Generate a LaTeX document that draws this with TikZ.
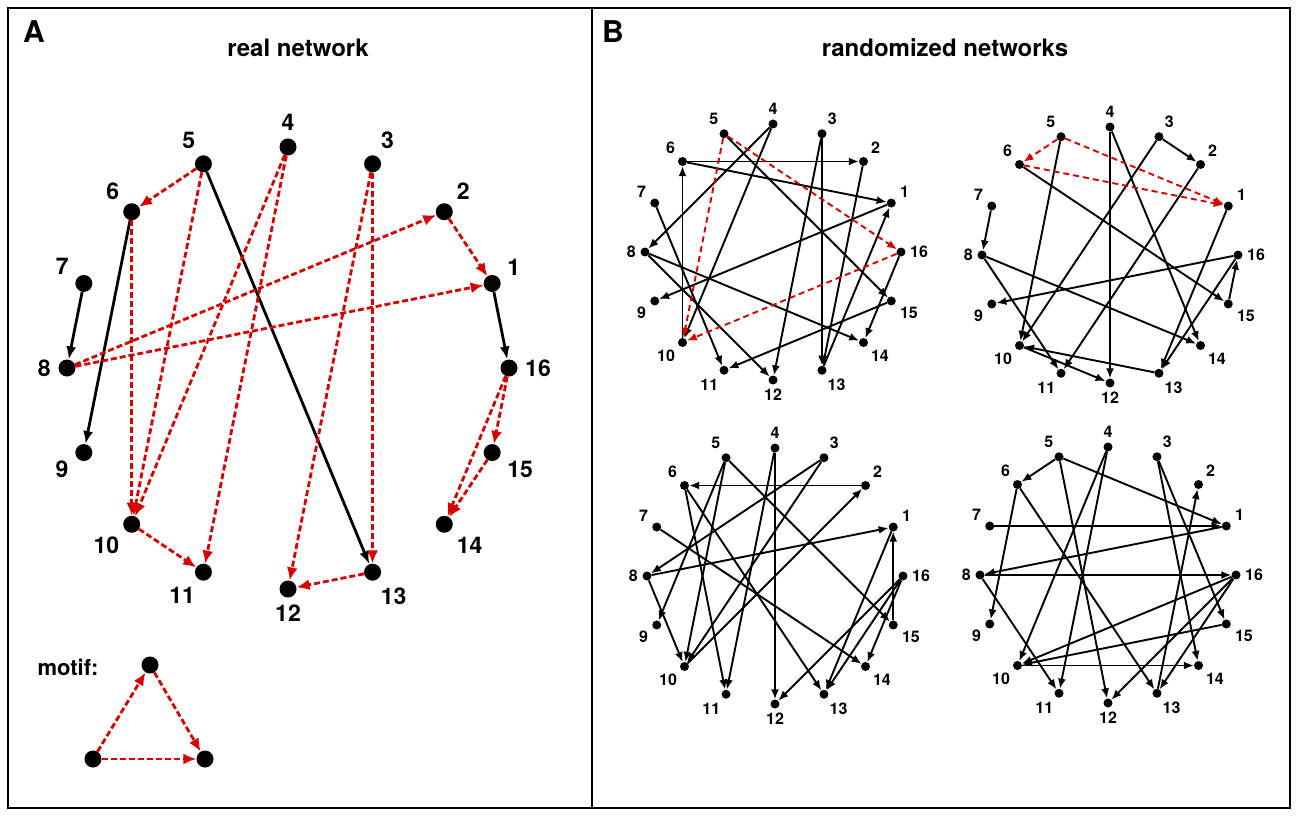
\documentclass[tikz,border=0pt]{standalone}
\usepackage{fontspec}
\setmainfont{TeX Gyre Heros}
\usetikzlibrary{arrows.meta}
\tikzset{
    big dot/.style={circle,fill=black,inner sep=0pt,minimum size=17pt},
    small dot/.style={circle,fill=black,inner sep=0pt,minimum size=9pt},
    big lbl/.style={font=\fontsize{23}{25}\selectfont\bfseries,label distance=4pt},
    small lbl/.style={font=\fontsize{16}{18}\selectfont\bfseries,label distance=1pt},
    blk A/.style={line width=2.8pt,-{Latex[length=13pt,width=10pt]}},
    red A/.style={line width=2.8pt,red!85!black,dash pattern=on 6pt off 3pt,-{Latex[length=13pt,width=11pt]}},
    blk B/.style={line width=1.9pt,-{Latex[length=10pt,width=8pt]}},
    red B/.style={line width=1.9pt,red!85!black,dash pattern=on 6pt off 4pt,-{Latex[length=10pt,width=8pt]}}
}
% one ring of sixteen nodes: prefix, centre x, centre y, radius, dot style, label style
\newcommand\ring[6]{%
  \foreach \i [evaluate=\i as \a using 22.5*\i] in {1,...,16}
    \node[#5,label={[#6]\a:\i}] (#1\i) at ({#2+#4*cos(\a)},{#3-#4*sin(\a)}) {};}

\begin{document}
\begin{tikzpicture}[x=1pt,y=-1pt]
\useasboundingbox (0,0) rectangle (1298,821);
\draw[line width=2.5pt] (8,8) rectangle (1290,808);
\draw[line width=2.5pt] (592,8) -- (592,808);

% panel A
\node[font=\fontsize{30}{32}\selectfont\bfseries] (labA) at (34,32) {A};
\node[font=\fontsize{24}{26}\selectfont\bfseries] (titA) at (298,48) {real network};
\ring{A}{288}{368}{221}{big dot}{big lbl}
\foreach \s/\t in {7/8,6/9,5/13,1/16}
    \draw[blk A] (A\s) -- (A\t);
\foreach \s/\t in {5/6,5/10,4/10,4/11,6/10,3/12,3/13,13/12,10/11,2/1,8/2,8/1,16/14,16/15,15/14}
    \draw[red A] (A\s) -- (A\t);

% motif
\node[font=\fontsize{22}{24}\selectfont\bfseries] (motif) at (68,667) {motif:};
\node[big dot] (m1) at (150,665) {};
\node[big dot] (m2) at (93,759) {};
\node[big dot] (m3) at (205,759) {};
\foreach \s/\t in {m2/m1,m1/m3,m2/m3}
    \draw[red A] (\s) -- (\t);

% panel B
\node[font=\fontsize{30}{32}\selectfont\bfseries] (labB) at (613,32) {B};
\node[font=\fontsize{24}{26}\selectfont\bfseries] (titB) at (945,48) {randomized networks};

\ring{P}{773}{252}{128}{small dot}{small lbl}
\foreach \s/\t in {6/2,6/1,4/8,4/10,5/15,3/12,3/13,2/13,13/1,1/9,10/6,7/11,8/12,8/14,16/14,15/11}
    \draw[blk B] (P\s) -- (P\t);
\foreach \s/\t in {5/16,5/10,16/10}
    \draw[red B] (P\s) -- (P\t);

\ring{Q}{1110}{255}{128}{small dot}{small lbl}
\foreach \s/\t in {7/8,5/10,4/12,4/14,3/2,3/10,2/11,1/13,6/15,15/16,16/9,16/13,8/11,8/14,10/12,13/10}
    \draw[blk B] (Q\s) -- (Q\t);
\foreach \s/\t in {5/6,5/1,6/1}
    \draw[red B] (Q\s) -- (Q\t);

\ring{R}{775}{576}{128}{small dot}{small lbl}
\foreach \s/\t in {2/6,5/9,5/10,5/15,4/12,4/11,3/8,3/10,10/2,8/1,8/10,7/14,6/11,6/13,15/1,1/13,16/14,16/12,16/13}
    \draw[blk B] (R\s) -- (R\t);

\ring{S}{1108}{575}{128}{small dot}{small lbl}
\foreach \s/\t in {5/6,5/1,5/12,4/10,4/11,3/14,3/15,6/9,6/13,7/1,1/8,8/16,8/11,13/2,16/10,16/12,16/13,15/10,10/14}
    \draw[blk B] (S\s) -- (S\t);
\end{tikzpicture}
\end{document}
